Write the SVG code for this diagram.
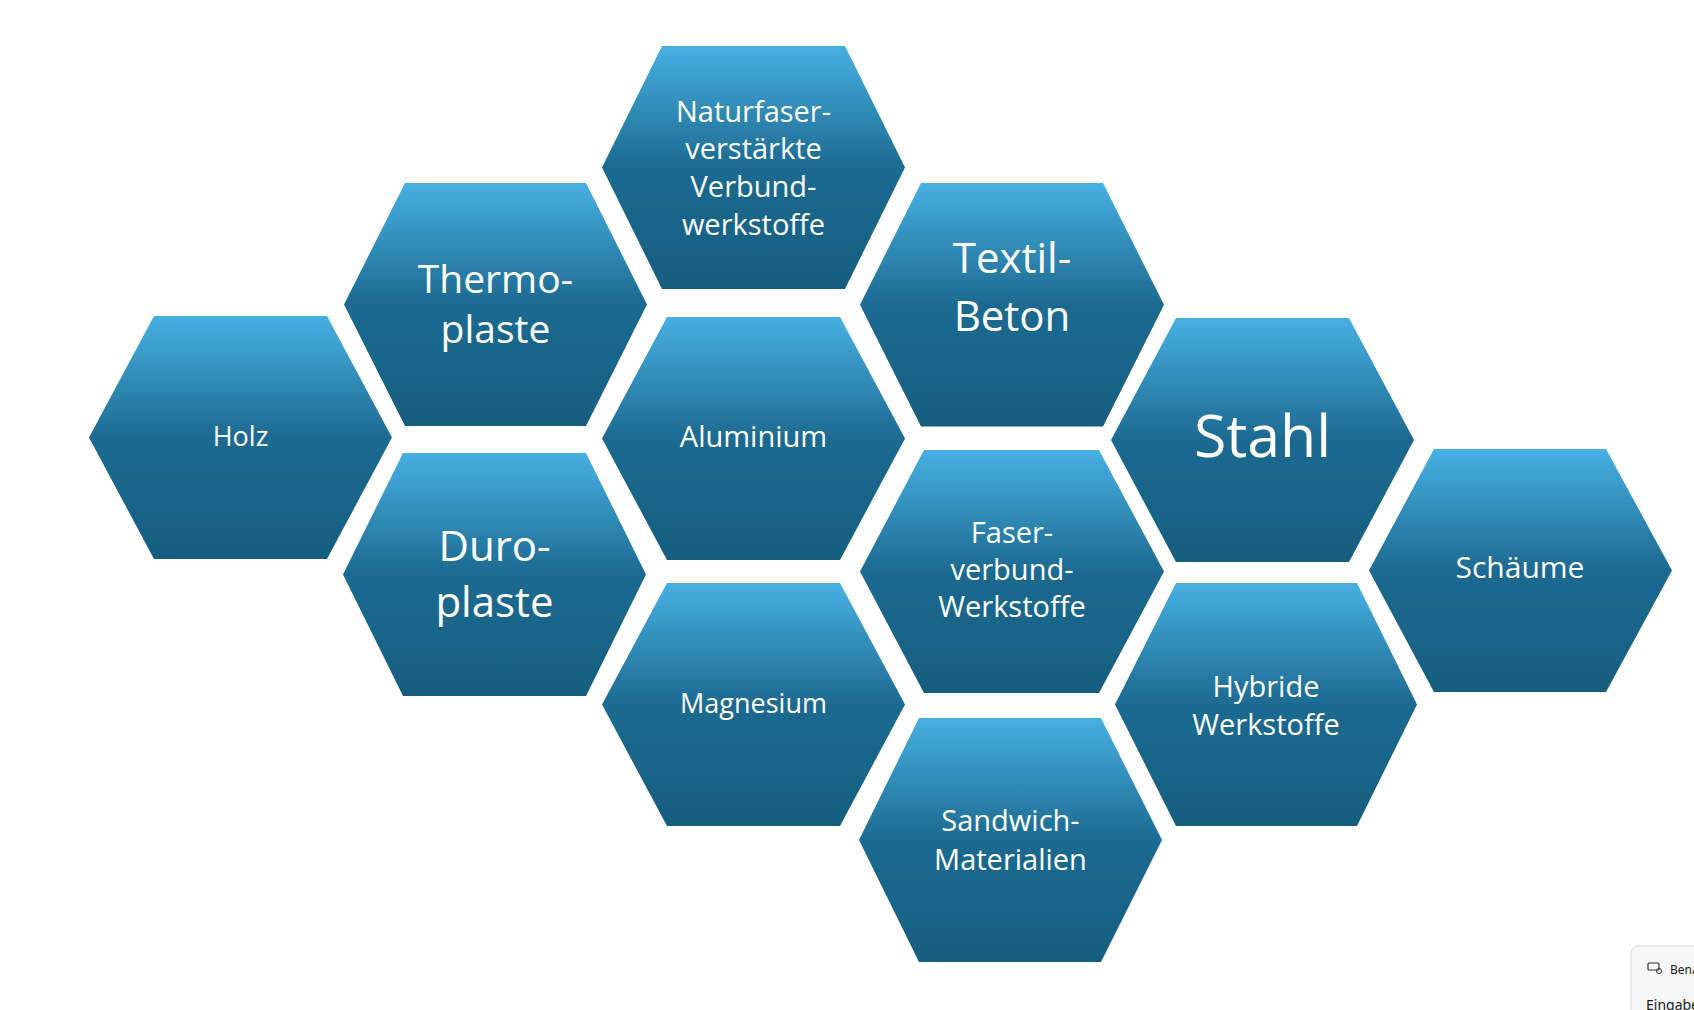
<svg xmlns="http://www.w3.org/2000/svg" width="1694" height="1010" viewBox="0 0 1694 1010">
<defs>
<linearGradient id="hexgrad" x1="0" y1="0" x2="0" y2="1">
<stop offset="0" stop-color="#47B0E2"/>
<stop offset="0.5" stop-color="#1C6A91"/>
<stop offset="1" stop-color="#165E80"/>
</linearGradient>
<style>
.hex{fill:url(#hexgrad);}
.lbl{font-family:"Open Sans","Noto Sans",sans-serif;fill:#FFFFFF;text-anchor:middle;}
.s27{font-size:27px;}
.s29{font-size:29px;}
.s30{font-size:30px;}
.s39{font-size:39px;}
.s42{font-size:42px;}
.s59{font-size:59px;}
.ui{font-family:"Noto Sans","Liberation Sans",sans-serif;fill:#1A1A1A;}
</style>
</defs>
<rect width="1694" height="1010" fill="#FFFFFF"/>
<g id="connectors"></g>
<g id="node-naturfaser">
<polygon class="hex" points="602,167.5 662,46 845,46 905,167.5 845,289 662,289"/>
<text class="lbl s29"><tspan x="753.5" y="121.7">Naturfaser-</tspan><tspan x="753.5" y="159.3">verstärkte</tspan><tspan x="753.5" y="196.7">Verbund-</tspan><tspan x="753.5" y="235">werkstoffe</tspan></text>
</g>
<g id="node-thermoplaste">
<polygon class="hex" points="344,304.5 405,183 586,183 647,304.5 586,426 405,426"/>
<text class="lbl s39"><tspan x="495.5" y="292.7">Thermo-</tspan><tspan x="495.5" y="343.3">plaste</tspan></text>
</g>
<g id="node-holz">
<polygon class="hex" points="89,437.5 154,316 327,316 392,437.5 327,559 154,559"/>
<text class="lbl s27" x="240.5" y="446">Holz</text>
</g>
<g id="node-aluminium">
<polygon class="hex" points="602,438.5 667,317 840,317 905,438.5 840,560 667,560"/>
<text class="lbl s29" x="753.5" y="447.4">Aluminium</text>
</g>
<g id="node-duroplaste">
<polygon class="hex" points="343,574.5 403,453 586,453 646,574.5 586,696 403,696"/>
<text class="lbl s42"><tspan x="494.5" y="560.7">Duro-</tspan><tspan x="494.5" y="616.7">plaste</tspan></text>
</g>
<g id="node-magnesium">
<polygon class="hex" points="602,704.5 667,583 840,583 905,704.5 840,826 667,826"/>
<text class="lbl s27" x="753.5" y="713.2">Magnesium</text>
</g>
<g id="node-textilbeton">
<polygon class="hex" points="860,304.8 921,183 1103,183 1164,304.8 1103,426.5 921,426.5"/>
<text class="lbl s42"><tspan x="1012" y="273.3">Textil-</tspan><tspan x="1012" y="331.2">Beton</tspan></text>
</g>
<g id="node-faserverbund">
<polygon class="hex" points="860,571.5 924,450 1099,450 1164,571.5 1099,693 924,693"/>
<text class="lbl s29"><tspan x="1012" y="542.5">Faser-</tspan><tspan x="1012" y="579.8">verbund-</tspan><tspan x="1012" y="617.1">Werkstoffe</tspan></text>
</g>
<g id="node-sandwich">
<polygon class="hex" points="859,840 919,718 1101,718 1162,840 1101,962 919,962"/>
<text class="lbl s29"><tspan x="1010.5" y="830.7">Sandwich-</tspan><tspan x="1010.5" y="870">Materialien</tspan></text>
</g>
<g id="node-stahl">
<polygon class="hex" points="1111,440 1176,318 1349,318 1414,440 1349,562 1176,562"/>
<text class="lbl s59" x="1262.5" y="456.7">Stahl</text>
</g>
<g id="node-hybride">
<polygon class="hex" points="1115,704.5 1176,583 1357,583 1417,704.5 1357,826 1176,826"/>
<text class="lbl s29"><tspan x="1266" y="696.7">Hybride</tspan><tspan x="1266" y="734.6">Werkstoffe</tspan></text>
</g>
<g id="node-schaeume">
<polygon class="hex" points="1369,570.5 1434,449 1606,449 1672,570.5 1606,692 1434,692"/>
<text class="lbl s30" x="1520" y="578.3">Schäume</text>
</g>
<g id="notification">
<rect x="1631" y="946" width="90" height="90" rx="8" fill="#F7F7F7" stroke="#D6D6D6" stroke-width="1"/>
<rect x="1648" y="963" width="11" height="7" rx="1" fill="none" stroke="#333333" stroke-width="1.2"/>
<circle cx="1659" cy="971" r="2.5" fill="none" stroke="#333333" stroke-width="1"/>
<text class="ui" x="1670" y="974" font-size="12">Bena</text>
<text class="ui" x="1646" y="1010" font-size="14">Eingabe</text>
</g>
</svg>
